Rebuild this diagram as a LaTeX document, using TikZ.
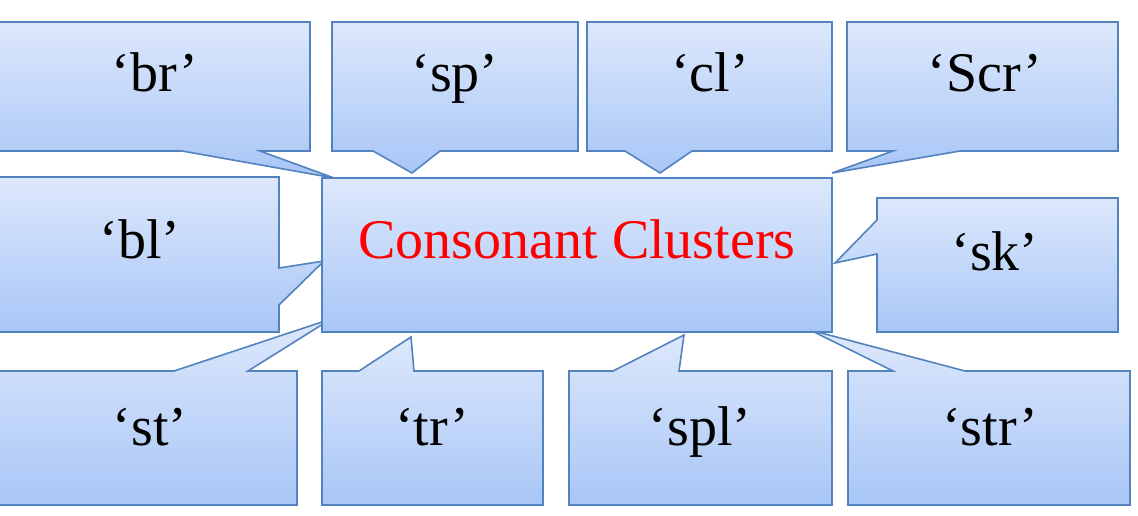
\documentclass[tikz,border=0pt]{standalone}
\usepackage{fontspec}
\setmainfont{Liberation Serif}
\begin{document}
\begin{tikzpicture}[x=1pt,y=-1pt,
  co/.style={top color=cTop,bottom color=cBot,draw=cLine,line width=1.6pt,line join=miter},
  lbl/.style={font=\fontsize{56}{56}\selectfont,text=black,anchor=base,inner sep=0pt}]
\definecolor{cTop}{HTML}{DDE8FC}
\definecolor{cBot}{HTML}{A8C6F6}
\definecolor{cLine}{HTML}{5383BE}
\useasboundingbox (0,0) rectangle (1138,516);
% top row
\shade[co] (-2,22) -- (310,22) -- (310,151) -- (260,151) -- (334,178) -- (182,151) -- (-2,151) -- cycle;
\shade[co] (332,22) -- (578,22) -- (578,151) -- (440,151) -- (412,173) -- (373,151) -- (332,151) -- cycle;
\shade[co] (587,22) -- (832,22) -- (832,151) -- (692,151) -- (660,173) -- (625,151) -- (587,151) -- cycle;
\shade[co] (847,22) -- (1118,22) -- (1118,151) -- (960,151) -- (832,173) -- (893,151) -- (847,151) -- cycle;
% middle row
\shade[co] (-2,177) -- (279,177) -- (279,268) -- (324,261) -- (279,305) -- (279,332) -- (-2,332) -- cycle;
\shade[co] (877,198) -- (1118,198) -- (1118,332) -- (877,332) -- (877,254) -- (835,263) -- (877,220) -- cycle;
% bottom row
\shade[co] (-2,371) -- (174,371) -- (331,319) -- (248,371) -- (297,371) -- (297,505) -- (-2,505) -- cycle;
\shade[co] (322,371) -- (359,371) -- (411,337) -- (414,371) -- (543,371) -- (543,505) -- (322,505) -- cycle;
\shade[co] (569,371) -- (613,371) -- (684,335) -- (679,371) -- (832,371) -- (832,505) -- (569,505) -- cycle;
\shade[co] (848,371) -- (893,371) -- (810,330) -- (965,371) -- (1130,371) -- (1130,505) -- (848,505) -- cycle;
% centre
\shade[co] (322,178) rectangle (832,332);
\node[lbl,text=red] (c) at (577,258) {Consonant Clusters};
\node[lbl] (br) at (155,92) {‘br’};
\node[lbl] (sp) at (455,92) {‘sp’};
\node[lbl] (cl) at (710,92) {‘cl’};
\node[lbl] (scr) at (985,92) {‘Scr’};
\node[lbl] (bl) at (140,258) {‘bl’};
\node[lbl] (sk) at (995,270) {‘sk’};
\node[lbl] (st) at (150,445) {‘st’};
\node[lbl] (tr) at (432,445) {‘tr’};
\node[lbl] (spl) at (700,445) {‘spl’};
\node[lbl] (str) at (990,445) {‘str’};
\end{tikzpicture}
\end{document}
